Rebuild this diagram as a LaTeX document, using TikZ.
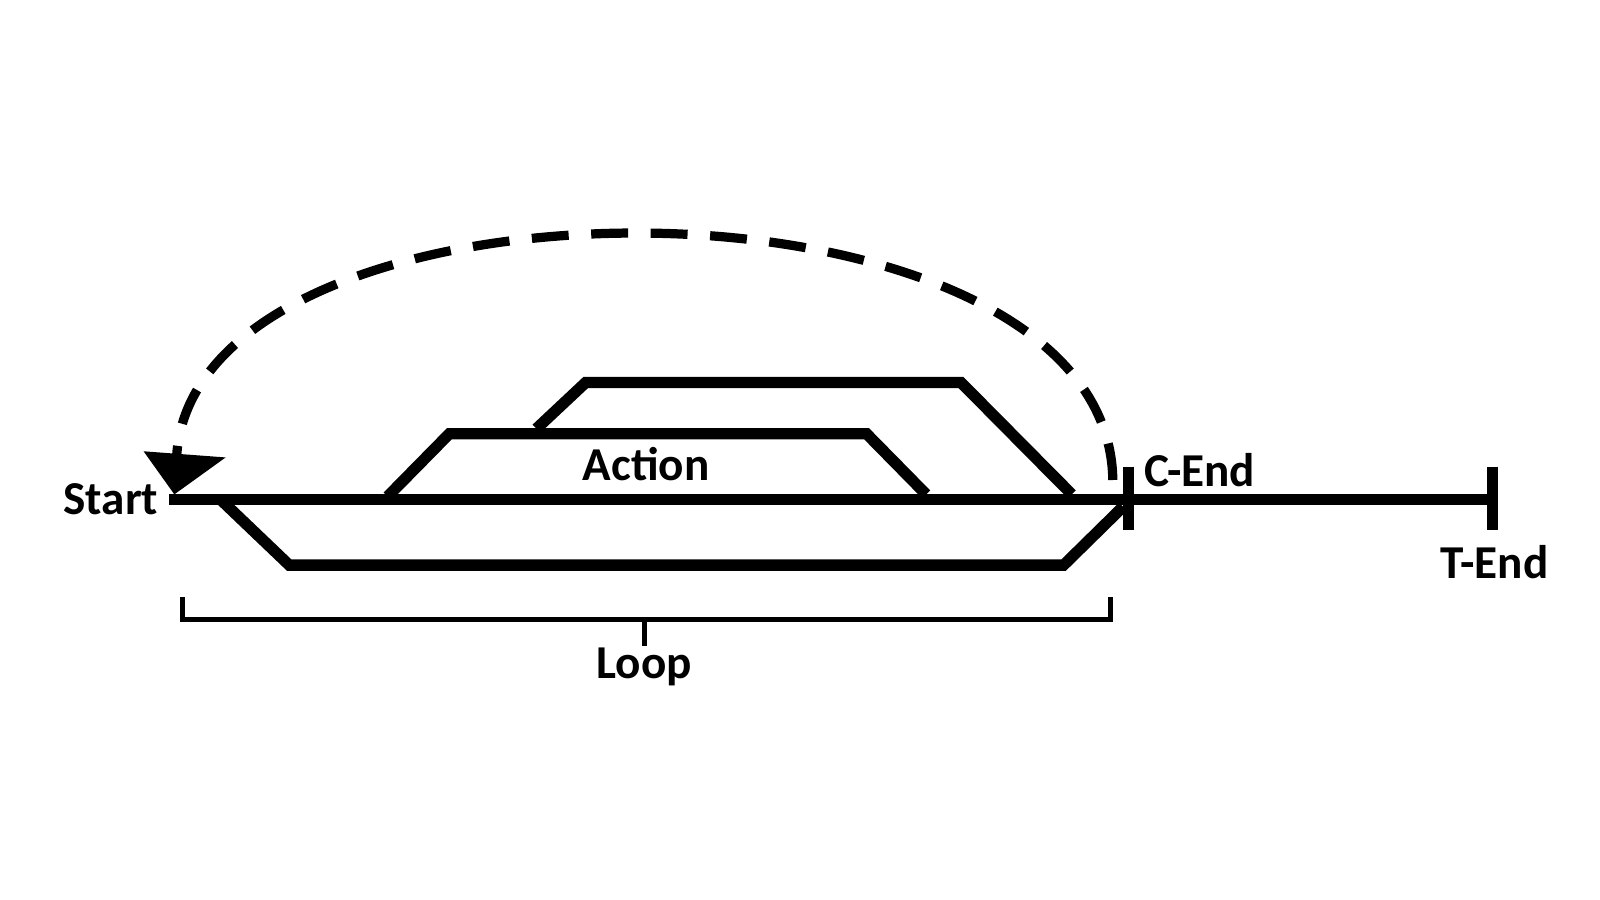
\documentclass[tikz,border=0pt]{standalone}
\usepackage{fontspec}
\setmainfont{Carlito}
\begin{document}
\begin{tikzpicture}[x=1pt,y=-1pt,
 track/.style={line width=11pt,line join=miter},
 lbl/.style={font=\bfseries\fontsize{46}{50}\selectfont,inner sep=0pt}]
\useasboundingbox (0,0) rectangle (1560,877.5);
\coordinate (s) at (165,487);
\coordinate (t) at (1455,487);
\draw[track] (s) -- (t);
\draw[track] (1455,455) -- (1455,517);
\draw[track] (1100,455) -- (1100,517);
\draw[track] (378,484) -- (438,423) -- (845,423) -- (903,482);
\draw[track] (523,418) -- (571,373) -- (937,373) -- (1045,482);
\draw[track] (215,487) -- (282,551) -- (1037,551) -- (1095,494);
\draw[line width=5pt] (178,582) -- (178,604) -- (1083,604) -- (1083,582);
\draw[line width=5pt] (628,604) -- (628,630);
\draw[line width=9pt,dash pattern=on 36pt off 22pt] (1085,468) .. controls (1080,150) and (180,150) .. (172,450);
\fill (140,440) -- (220,446) -- (170,482) -- cycle;
\node[lbl] (start) at (108,487) {Start};
\node[lbl] (act) at (630,452) {Action};
\node[lbl] (cend) at (1170,458) {C-End};
\node[lbl] (tend) at (1457,548) {T-End};
\node[lbl] (loop) at (628,650) {Loop};
\end{tikzpicture}
\end{document}
